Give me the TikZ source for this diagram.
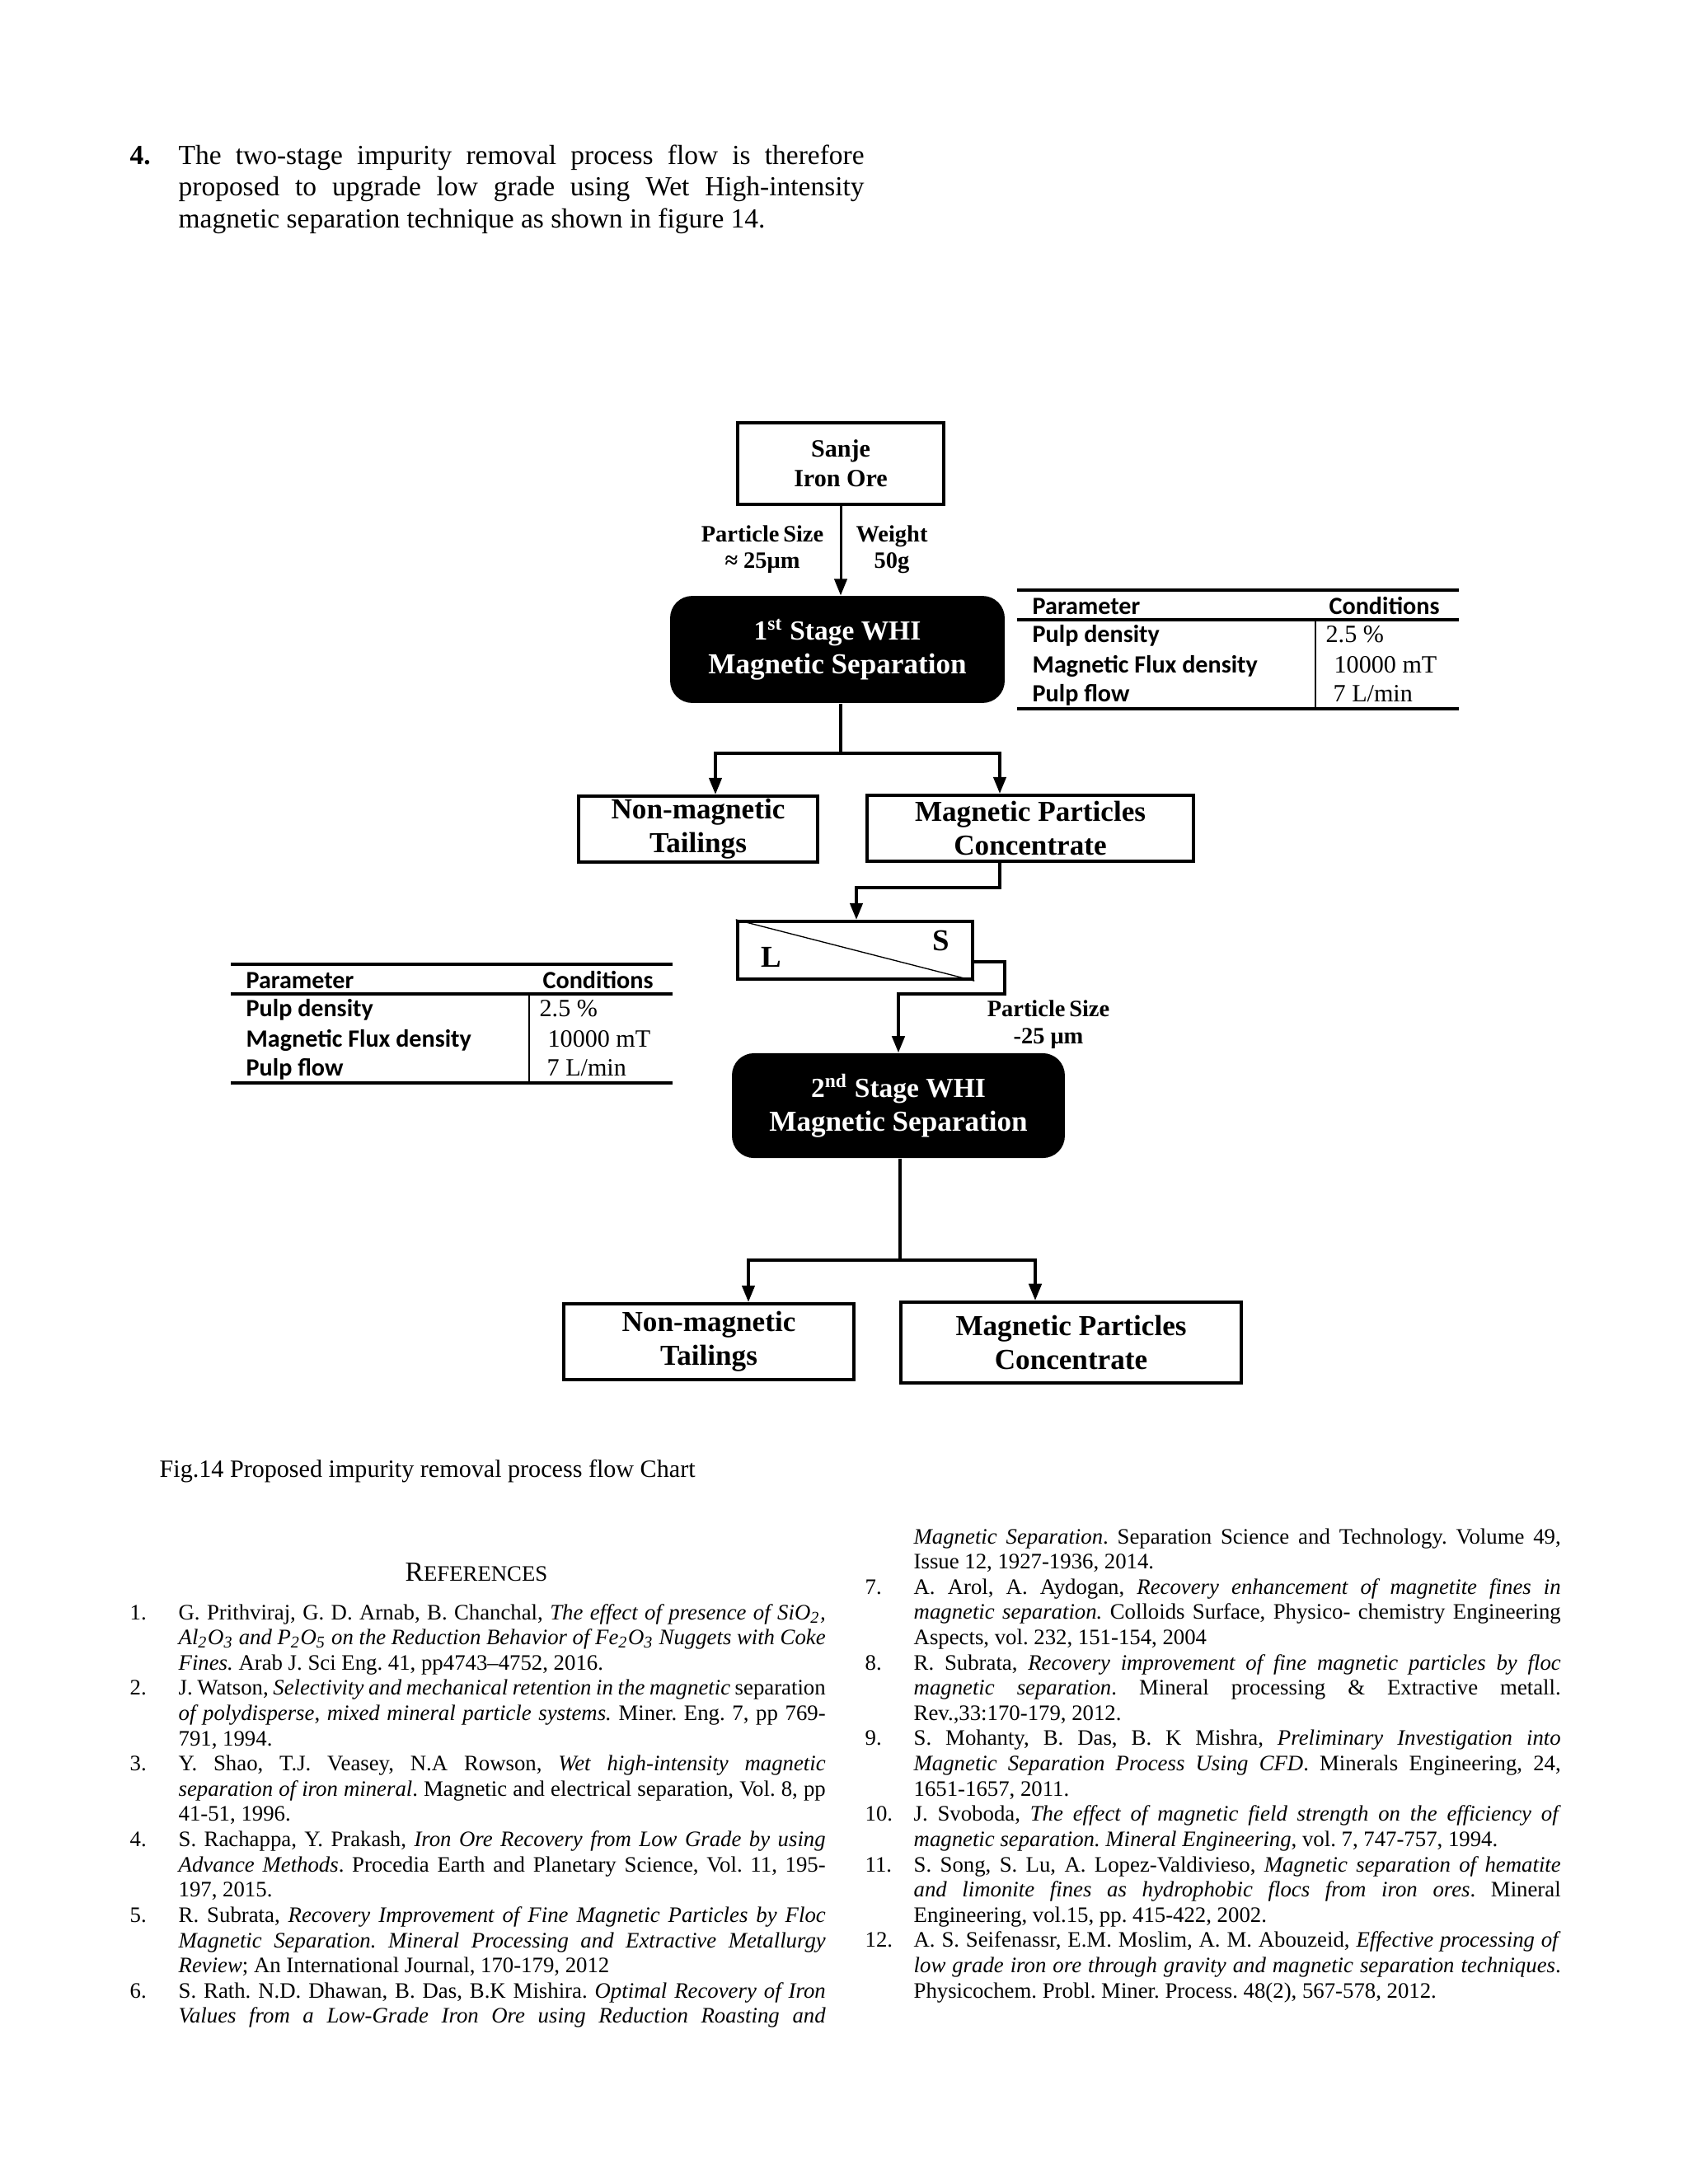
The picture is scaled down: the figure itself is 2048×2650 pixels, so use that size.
\documentclass[tikz,border=0pt]{standalone}
\usepackage{fontspec}
\setmainfont{Liberation Serif}
\newfontfamily\calib{Carlito}
\usetikzlibrary{arrows.meta}
\frenchspacing
\newdimen\indw
\newdimen\colw
\newcommand\JL[2]{\hbox{\hbox to\indw{#1\hfil}\hbox to\colw{#2}}}
\newcommand\LL[2]{\hbox{\hbox to\indw{#1\hfil}\hbox to\colw{#2\hfil}}}
\tikzset{
  box/.style={draw, line width=1.3pt, inner sep=0pt, align=center, font=\fontsize{10.5}{12.3}\selectfont\bfseries},
  dark/.style={fill=black, text=white, rounded corners=8pt, inner sep=0pt, align=center, font=\fontsize{10.5}{12.3}\selectfont\bfseries},
  conn/.style={line width=1pt},
  arr/.style={conn, -{Triangle[length=6pt,width=4.6pt]}},
  lbl/.style={font=\fontsize{8.5}{10}\selectfont\bfseries, inner sep=0pt},
  tline/.style={line width=1.2pt},
  vline/.style={line width=0.7pt},
  pcol/.style={font=\fontsize{9}{10}\selectfont\calib\bfseries, inner sep=0pt, anchor=base west},
  vcol/.style={font=\fontsize{9}{10}\selectfont, inner sep=0pt, anchor=base west},
  txt/.style={inner sep=0pt, anchor=base west}
}
\newcommand\ptable[3]{%
\begin{scope}[shift={(#1,#2)}]
  \draw[tline] (0,0) -- (536,0);
  \draw[tline] (0,36) -- (536,36);
  \draw[tline] (0,144) -- (536,144);
  \draw[vline] (362,36) -- (362,144);
  \node[pcol] (#3p0) at (18,29) {Parameter};
  \node[pcol] (#3c0) at (378,29) {Conditions};
  \node[pcol] (#3p1) at (18,63) {Pulp density};
  \node[vcol] (#3c1) at (374,63) {2.5 \%};
  \node[pcol] (#3p2) at (18,100) {Magnetic Flux density};
  \node[vcol] (#3c2) at (384,100) {10000 mT};
  \node[pcol] (#3p3) at (18,135) {Pulp flow};
  \node[vcol] (#3c3) at (383,135) {7 L/min};
\end{scope}}
\begin{document}
\begin{tikzpicture}[x=0.298828pt,y=-0.298828pt]
\useasboundingbox (0,0) rectangle (2048,2650);
\fill[white] (0,0) rectangle (2048,2650);

% top paragraph
\node[txt] (para) at (157,199) {\fontsize{10}{11.6}\selectfont\indw=17.63pt\colw=248.6pt\vtop{\baselineskip=11.6pt
\JL{\bfseries 4.}{The two-stage impurity removal process flow is therefore}%
\JL{}{proposed to upgrade low grade using Wet High-intensity}%
\LL{}{magnetic separation technique as shown in figure 14.}}};

% flow chart
\node[box, line width=1.1pt, minimum width=74.7pt, minimum height=29.6pt, font=\fontsize{9}{10.8}\selectfont\bfseries] (ore) at (1020,562.5) {Sanje\\Iron Ore};
\node[dark, minimum width=121.3pt, minimum height=38.8pt] (st1) at (1016,788) {{\fontsize{10}{12.3}\selectfont 1\textsuperscript{st} Stage WHI}\\Magnetic Separation};
\draw[arr, line width=0.9pt] (ore.south) -- (ore.south |- st1.north);
\node[lbl, anchor=base] (ps1) at (925,657) {Particle\,Size};
\node[lbl, anchor=base] (ps1b) at (925,689) {≈ 25μm};
\node[lbl, anchor=base] (wt1) at (1082,657) {Weight};
\node[lbl, anchor=base] (wt1b) at (1082,689) {50g};

\ptable{1234}{716}{ta}

\node[box, minimum width=86.7pt, minimum height=23.9pt] (nmt1) at (847,1006) {Non-magnetic\\Tailings};
\node[box, minimum width=118.3pt, minimum height=23.9pt] (mpc1) at (1250,1005) {Magnetic Particles\\Concentrate};
\coordinate (s1) at (1020,914);
\coordinate (xl1) at (868,0);
\coordinate (xr1) at (1213,0);
\draw[conn] (st1.south -| s1) -- (s1);
\draw[arr] (s1) -| (nmt1.north -| xl1);
\draw[arr] (s1) -| (mpc1.north -| xr1);

\node[draw, line width=1.3pt, minimum width=85.2pt, minimum height=20.9pt, inner sep=0pt] (ls) at (1037.5,1153) {};
\draw[line width=0.4pt] (ls.north west) -- (ls.south east);
\node[font=\fontsize{11}{11}\selectfont\bfseries, inner sep=0pt, anchor=base] (lL) at (936,1173) {L};
\node[font=\fontsize{11}{11}\selectfont\bfseries, inner sep=0pt, anchor=base] (lS) at (1142,1153) {S};
\coordinate (c1) at (1213,1077);
\coordinate (xls) at (1039,0);
\draw[arr] (mpc1.south -| c1) -- (c1) -| (ls.north -| xls);

\node[dark, minimum width=120.7pt, minimum height=38pt] (st2) at (1090,1341.5) {{\fontsize{10}{12.3}\selectfont 2\textsuperscript{nd} Stage WHI}\\Magnetic Separation};
\coordinate (c2) at (1219,1167);
\coordinate (c3) at (1219,1206);
\draw[arr] (ls.east |- c2) -- (c2) -- (c3) -| (st2.north);
\node[lbl, anchor=base] (ps2) at (1272,1233) {Particle\,Size};
\node[lbl, anchor=base] (ps2b) at (1272,1266) {-25 μm};

\ptable{280}{1170}{tb}

\node[box, minimum width=105.2pt, minimum height=27.5pt] (nmt2) at (860,1628) {Non-magnetic\\Tailings};
\node[box, minimum width=123.4pt, minimum height=29.3pt] (mpc2) at (1299.5,1629) {Magnetic Particles\\Concentrate};
\coordinate (s2) at (1092,1529);
\coordinate (xl2) at (908,0);
\coordinate (xr2) at (1256,0);
\draw[conn] (st2.south -| s2) -- (s2);
\draw[arr] (s2) -| (nmt2.north -| xl2);
\draw[arr] (s2) -| (mpc2.north -| xr2);

% caption
\node[txt, font=\fontsize{9}{11}\selectfont] (cap) at (193,1792) {Fig.14 Proposed impurity removal process flow Chart};

% references
\node[inner sep=0pt, anchor=base, font=\fontsize{10}{12}\selectfont] (refh) at (578,1918) {R{\fontsize{8}{10}\selectfont EFERENCES}};

\node[txt] (col1) at (157,1965) {\fontsize{8}{9.15}\selectfont\indw=17.63pt\colw=234.6pt\vtop{\baselineskip=9.15pt
\JL{1.}{G. Prithviraj, G. D. Arnab, B. Chanchal, \textit{The effect of presence of SiO\textsubscript{2},}}%
\JL{}{\textit{Al\textsubscript{2}O\textsubscript{3} and P\textsubscript{2}O\textsubscript{5} on the Reduction Behavior of Fe\textsubscript{2}O\textsubscript{3} Nuggets with Coke}}%
\LL{}{\textit{Fines.} Arab J. Sci Eng. 41, pp4743–4752, 2016.}%
\JL{2.}{J. Watson, \textit{Selectivity and mechanical retention in the magnetic} separation}%
\JL{}{\textit{of polydisperse}, \textit{mixed mineral particle systems.} Miner. Eng. 7, pp 769-}%
\LL{}{791, 1994.}%
\JL{3.}{Y. Shao, T.J. Veasey, N.A Rowson, \textit{Wet high-intensity magnetic}}%
\JL{}{\textit{separation of iron mineral}. Magnetic and electrical separation, Vol. 8, pp}%
\LL{}{41-51, 1996.}%
\JL{4.}{S. Rachappa, Y. Prakash, \textit{Iron Ore Recovery from Low Grade by using}}%
\JL{}{\textit{Advance Methods}. Procedia Earth and Planetary Science, Vol. 11, 195-}%
\LL{}{197, 2015.}%
\JL{5.}{R. Subrata, \textit{Recovery Improvement of Fine Magnetic Particles by Floc}}%
\JL{}{\textit{Magnetic Separation. Mineral Processing and Extractive Metallurgy}}%
\LL{}{\textit{Review}; An International Journal, 170-179, 2012}%
\JL{6.}{S. Rath. N.D. Dhawan, B. Das, B.K Mishira. \textit{Optimal Recovery of Iron}}%
\JL{}{\textit{Values from a Low-Grade Iron Ore using Reduction Roasting and}}}};

\node[txt] (col2) at (1049,1873) {\fontsize{8}{9.15}\selectfont\indw=17.63pt\colw=234.6pt\vtop{\baselineskip=9.15pt
\JL{}{\textit{Magnetic Separation}. Separation Science and Technology. Volume 49,}%
\LL{}{Issue 12, 1927-1936, 2014.}%
\JL{7.}{A. Arol, A. Aydogan, \textit{Recovery enhancement of magnetite fines in}}%
\JL{}{\textit{magnetic separation.} Colloids Surface, Physico- chemistry Engineering}%
\LL{}{Aspects, vol. 232, 151-154, 2004}%
\JL{8.}{R. Subrata, \textit{Recovery improvement of fine magnetic particles by floc}}%
\JL{}{\textit{magnetic separation}. Mineral processing \& Extractive metall.}%
\LL{}{Rev.,33:170-179, 2012.}%
\JL{9.}{S. Mohanty, B. Das, B. K Mishra, \textit{Preliminary Investigation into}}%
\JL{}{\textit{Magnetic Separation Process Using CFD}. Minerals Engineering, 24,}%
\LL{}{1651-1657, 2011.}%
\JL{10.}{J. Svoboda, \textit{The effect of magnetic field strength on the efficiency of}}%
\LL{}{\textit{magnetic separation. Mineral Engineering}, vol. 7, 747-757, 1994.}%
\JL{11.}{S. Song, S. Lu, A. Lopez-Valdivieso, \textit{Magnetic separation of hematite}}%
\JL{}{\textit{and limonite fines as hydrophobic flocs from iron ores}. Mineral}%
\LL{}{Engineering, vol.15, pp. 415-422, 2002.}%
\JL{12.}{A. S. Seifenassr, E.M. Moslim, A. M. Abouzeid, \textit{Effective processing of}}%
\JL{}{\textit{low grade iron ore through gravity and magnetic separation techniques}.}%
\LL{}{Physicochem. Probl. Miner. Process. 48(2), 567-578, 2012.}}};
\end{tikzpicture}
\end{document}
